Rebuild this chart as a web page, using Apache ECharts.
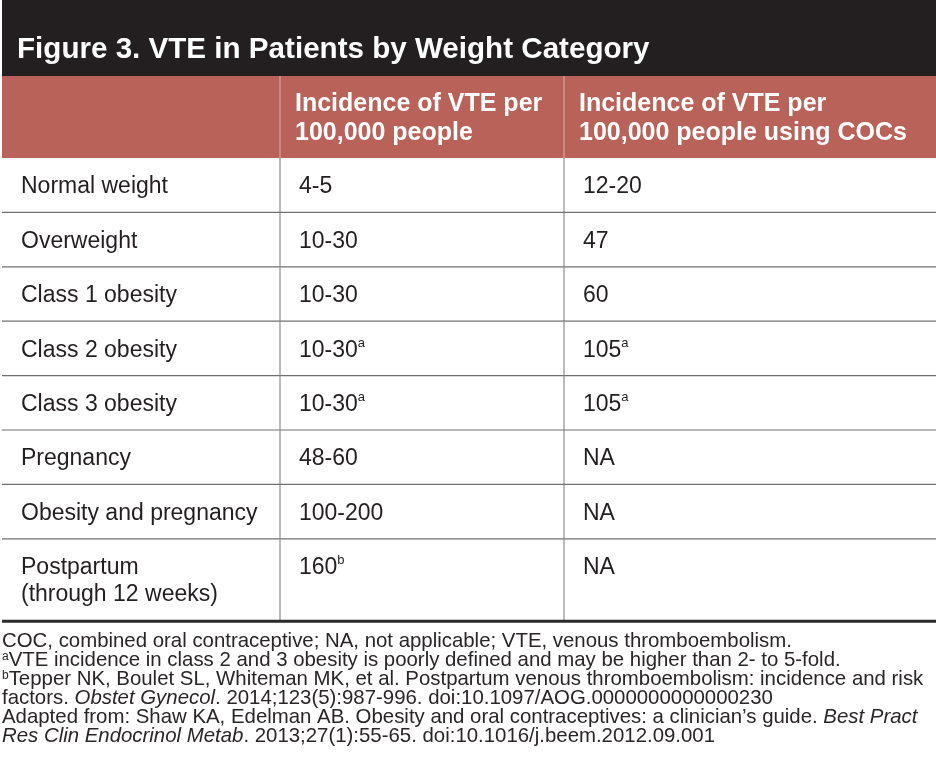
<!DOCTYPE html>
<html>
<head>
<meta charset="utf-8">
<script src="https://cdn.jsdelivr.net/npm/echarts@6/dist/echarts.min.js"></script>
<style>
  html, body { margin: 0; padding: 0; background: #fff; }
  #chart { width: 936px; height: 781px; }
</style>
</head>
<body>
<div id="chart"></div>
<script>
// figure content
const titleText = "Figure 3. VTE in Patients by Weight Category";
const columnHeaders = ["", "Incidence of VTE per\n100,000 people", "Incidence of VTE per\n100,000 people using COCs"];
const weightCategories = [
  "Normal weight", "Overweight", "Class 1 obesity", "Class 2 obesity",
  "Class 3 obesity", "Pregnancy", "Obesity and pregnancy", "Postpartum\n(through 12 weeks)"
];
const incidence = ["4-5", "10-30", "10-30", "10-30", "10-30", "48-60", "100-200", "160"];
const incidenceNotes = ["", "", "", "a", "a", "", "", "b"];
const incidenceCOC = ["12-20", "47", "60", "105", "105", "NA", "NA", "NA"];
const incidenceCOCNotes = ["", "", "", "a", "a", "", "", ""];
const footnotes = [
  "COC, combined oral contraceptive; NA, not applicable; VTE, venous thromboembolism.",
  "{sup|a}VTE incidence in class 2 and 3 obesity is poorly defined and may be higher than 2- to 5-fold.",
  "{sup|b}Tepper NK, Boulet SL, Whiteman MK, et al. Postpartum venous thromboembolism: incidence and risk",
  "factors. {it|Obstet Gynecol}. 2014;123(5):987-996. doi:10.1097/AOG.0000000000000230",
  "Adapted from: Shaw KA, Edelman AB. Obesity and oral contraceptives: a clinician\u2019s guide. {it|Best Pract}",
  "{it|Res Clin Endocrinol Metab}. 2013;27(1):55-65. doi:10.1016/j.beem.2012.09.001"
];

// layout (pixel units of the hidden axes)
const W = 936, H = 781;
const colEdges = [2, 280, 564, 936];
const titleBottom = 76;
const headerBottom = 158;
const rowHeights = [54.4, 54.4, 54.4, 54.4, 54.4, 54.4, 54.4, 82.5];
const rowEdges = [headerBottom];
rowHeights.forEach(h => rowEdges.push(rowEdges[rowEdges.length - 1] + h));
const footTop = 632;
const footLine = 19;

const FONT = "'Liberation Sans', Arial, Helvetica, sans-serif";
const INK = "#231f20";
const bodyRich = {
  sup: { fontSize: 13, lineHeight: 15, verticalAlign: "top", fill: INK, fontFamily: FONT }
};

function cellText(api, x, y, text, note) {
  const p = api.coord([x, y]);
  return {
    type: "text",
    style: {
      x: p[0], y: p[1],
      text: note ? text + "{sup|" + note + "}" : text,
      fontFamily: FONT, fontSize: 23, lineHeight: 27,
      fill: INK, verticalAlign: "top",
      rich: bodyRich
    }
  };
}

function vline(api, x, y0, y1, color) {
  const a = api.coord([x, y0]), b = api.coord([x, y1]);
  return {
    type: "line",
    shape: { x1: a[0], y1: a[1], x2: b[0], y2: b[1] },
    style: { stroke: color, lineWidth: 1.2 }
  };
}

function renderHeader(params, api) {
  const a = api.coord([colEdges[0], titleBottom]);
  const b = api.coord([colEdges[3], headerBottom]);
  const t0 = api.coord([colEdges[0], 0]);
  const children = [
    { type: "rect", shape: { x: t0[0], y: t0[1], width: b[0] - t0[0], height: a[1] - t0[1] }, style: { fill: INK } },
    { type: "rect", shape: { x: a[0], y: a[1], width: b[0] - a[0], height: b[1] - a[1] }, style: { fill: "#b9625a" } },
    vline(api, colEdges[1], titleBottom, headerBottom, "#d9a39d"),
    vline(api, colEdges[2], titleBottom, headerBottom, "#d9a39d")
  ];
  const tp = api.coord([17, 34.5]);
  children.push({
    type: "text",
    style: {
      x: tp[0], y: tp[1], text: titleText,
      fontFamily: FONT, fontWeight: "bold", fontSize: 29.6, lineHeight: 30,
      fill: "#ffffff", verticalAlign: "top"
    }
  });
  columnHeaders.forEach((h, c) => {
    if (!h) return;
    const p = api.coord([colEdges[c] + 15, 90]);
    children.push({
      type: "text",
      style: {
        x: p[0], y: p[1], text: h,
        fontFamily: FONT, fontWeight: "bold", fontSize: 25, lineHeight: 29,
        fill: "#ffffff", verticalAlign: "top"
      }
    });
  });
  return { type: "group", children };
}

function renderRow(params, api) {
  const i = params.dataIndex;
  const y0 = rowEdges[i], y1 = rowEdges[i + 1];
  const last = i === weightCategories.length - 1;
  const l0 = api.coord([colEdges[0], y1]), l1 = api.coord([colEdges[3], y1]);
  return {
    type: "group",
    children: [
      vline(api, colEdges[1], y0, y1, "#8c8c8c"),
      vline(api, colEdges[2], y0, y1, "#8c8c8c"),
      {
        type: "line",
        shape: { x1: l0[0], y1: l0[1], x2: l1[0], y2: l1[1] },
        style: { stroke: last ? "#2b2b2b" : "#707070", lineWidth: last ? 3 : 1.2 }
      },
      cellText(api, colEdges[0] + 19, y0 + 15.5, weightCategories[i], ""),
      cellText(api, colEdges[1] + 19, y0 + 15.5, incidence[i], incidenceNotes[i]),
      cellText(api, colEdges[2] + 19, y0 + 15.5, incidenceCOC[i], incidenceCOCNotes[i])
    ]
  };
}

function renderFootnote(params, api) {
  const p = api.coord([2, footTop + params.dataIndex * footLine]);
  return {
    type: "text",
    style: {
      x: p[0], y: p[1], text: footnotes[params.dataIndex],
      fontFamily: FONT, fontSize: 20.4, lineHeight: footLine,
      fill: "#2a2627", verticalAlign: "top",
      rich: {
        it: { fontStyle: "italic", fontSize: 20.4, lineHeight: footLine, fill: "#2a2627", fontFamily: FONT },
        sup: { fontSize: 12, lineHeight: 8, verticalAlign: "top", fill: "#2a2627", fontFamily: FONT }
      }
    }
  };
}

const chart = echarts.init(document.getElementById("chart"), null, { renderer: "canvas" });
chart.setOption({
  animation: false,
  backgroundColor: "#ffffff",
  grid: { left: 0, top: 0, width: W, height: H },
  xAxis: { type: "value", min: 0, max: W, show: false },
  yAxis: { type: "value", min: 0, max: H, inverse: true, show: false },
  series: [
    { type: "custom", name: "header", renderItem: renderHeader, data: [0], silent: true },
    { type: "custom", name: "rows", renderItem: renderRow, data: weightCategories.map((c, i) => i), silent: true },
    { type: "custom", name: "footnotes", renderItem: renderFootnote, data: footnotes.map((f, i) => i), silent: true }
  ]
});
</script>
</body>
</html>
